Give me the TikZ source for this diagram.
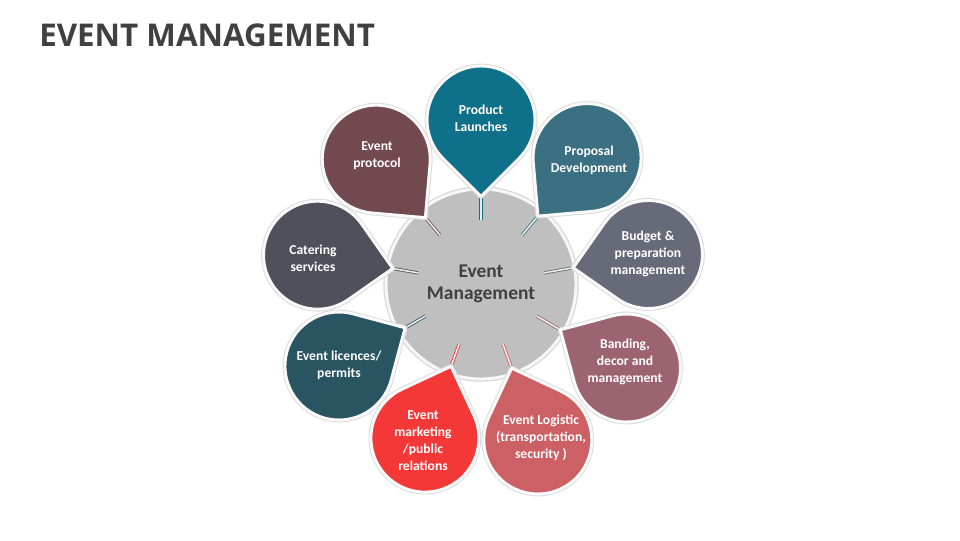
\documentclass[tikz,border=0pt]{standalone}
\usepackage{fontspec}
\setmainfont{Carlito}
\newfontfamily\titlefont{Open Sans}
\usetikzlibrary{calc}
\definecolor{titlegray}{HTML}{404040}
\definecolor{hubgray}{HTML}{BFBFBF}
\definecolor{cprod}{HTML}{0F7189}
\definecolor{cprop}{HTML}{3B7082}
\definecolor{cbudg}{HTML}{676A78}
\definecolor{cband}{HTML}{9B6470}
\definecolor{clogi}{HTML}{CD6064}
\definecolor{cmark}{HTML}{F43838}
\definecolor{clice}{HTML}{295462}
\definecolor{ccate}{HTML}{4F505C}
\definecolor{cprot}{HTML}{734950}
\begin{document}
\begin{tikzpicture}[x=0.75pt,y=0.75pt,
  pinrim/.style={draw=gray!28, line width=3.6pt, line join=round},
  pinbody/.style={draw=white!96!gray, line width=2.2pt, line join=round},
  link/.style={line width=0.6pt, double=white!85!gray, double distance=1.2pt},
  pintext/.style={text=white, font=\bfseries\fontsize{10.2}{12.8}\selectfont, align=center, inner sep=0pt},
  hub/.style={circle, fill=hubgray, draw=white!94!gray, line width=2.2pt, minimum size=142.5pt, inner sep=0pt,
    text=titlegray, font=\bfseries\fontsize{14.6}{16.5}\selectfont, align=center}]
\useasboundingbox (0,0) rectangle (960,-540);
\fill[white] (0,0) rectangle (960,-540);
\node[anchor=base west, font=\titlefont\bfseries\fontsize{23.5}{28}\selectfont, text=titlegray, inner sep=0pt] (title) at (39,-46) {EVENT MANAGEMENT};
\coordinate (C) at (481,-284);
\fill[gray!30] (C) circle[radius=73.3pt];
\node[hub] (hubnode) at (C) {Event\\Management};
\foreach \a/\d/\c/\n in {90/164/cprod/prod, 50/165/cprop/prop, 10/170/cbudg/budg, -30/168/cband/band, -70/166/clogi/logi, -110/164/cmark/mark, -150/164/clice/lice, 170/166/ccate/cate, 130/163/cprot/prot}{
  \coordinate (P\n) at ($(C)+(\a:\d)$);
  \coordinate (T\n) at ($(P\n)+(\a+180:76.4)$);
  \coordinate (S\n) at ($(C)+(\a:64)$);
  \draw[link, draw=\c] (S\n) -- (T\n);
  \path[pinrim] (T\n) -- ($(P\n)+(\a+225:54)$) arc[start angle=\a+225, end angle=\a+495, radius=40.5pt] -- cycle;
  \path[pinbody, fill=\c] (T\n) -- ($(P\n)+(\a+225:54)$) arc[start angle=\a+225, end angle=\a+495, radius=40.5pt] -- cycle;
}
\node[pintext] (tprod) at (481,-118) {Product\\Launches};
\node[pintext] (tprop) at (589,-160) {Proposal\\Development};
\node[pintext] (tbudg) at (648,-254) {Budget \&\\preparation\\management};
\node[pintext] (tband) at (625,-362) {Banding,\\decor and\\management};
\node[pintext] (tlogi) at (541,-438) {Event Logistic\\(transportation,\\security )};
\node[pintext] (tmark) at (423,-441) {Event\\marketing\\/public\\relations};
\node[pintext] (tlice) at (339,-365) {Event licences/\\permits};
\node[pintext] (tcate) at (313,-258) {Catering\\services};
\node[pintext] (tprot) at (377,-156) {Event\\protocol};
\end{tikzpicture}
\end{document}
